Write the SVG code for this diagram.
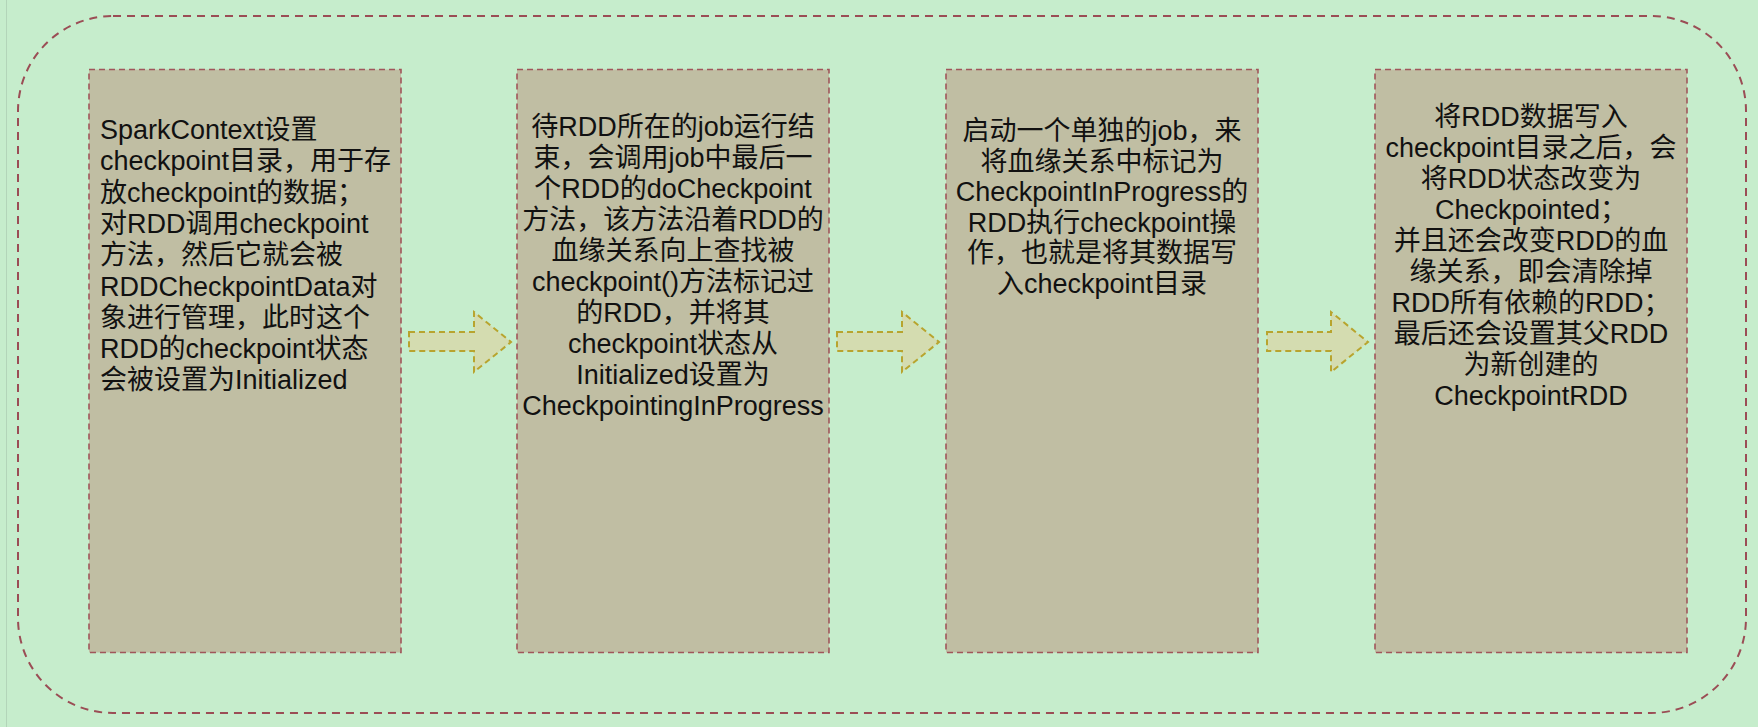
<svg xmlns="http://www.w3.org/2000/svg" width="1758" height="727" viewBox="0 0 1758 727">
<style>
.bg{fill:#C6EDCC}
.outer{fill:none;stroke:#9B4D55;stroke-width:2;stroke-dasharray:8 6}
.box{fill:#C0BEA3;stroke:#A0565A;stroke-width:1.6;stroke-dasharray:6 4}
.arrow{fill:#D4DCB0;stroke:#B8A42E;stroke-width:2;stroke-dasharray:6 4}
.t{font-family:"Liberation Sans","Noto Sans CJK SC",sans-serif;font-size:27px;fill:#111}
.c{text-anchor:middle}
</style>
<rect class="bg" x="0" y="0" width="1758" height="727"/>
<line x1="6.5" y1="0" x2="6.5" y2="727" stroke="#B3D5B9" stroke-width="1"/>
<rect class="outer" x="18" y="16" width="1728" height="697" rx="95" ry="95"/>
<g id="connectors">
<polygon class="arrow" points="409,332 474,332 474,312 511,342 474,372 474,351 409,351"/>
<polygon class="arrow" points="837,332 902,332 902,312 939,342 902,372 902,351 837,351"/>
<polygon class="arrow" points="1267,332 1331,332 1331,312 1368,342 1331,372 1331,351 1267,351"/>
</g>
<g id="node1">
<rect class="box" x="89" y="69.5" width="312" height="583"/>
<text class="t" x="100" y="139">SparkContext设置</text>
<text class="t" x="100" y="170.3">checkpoint目录，用于存</text>
<text class="t" x="100" y="201.6">放checkpoint的数据；</text>
<text class="t" x="100" y="232.9">对RDD调用checkpoint</text>
<text class="t" x="100" y="264.2">方法，然后它就会被</text>
<text class="t" x="100" y="295.5">RDDCheckpointData对</text>
<text class="t" x="100" y="326.8">象进行管理，此时这个</text>
<text class="t" x="100" y="358.1">RDD的checkpoint状态</text>
<text class="t" x="100" y="389.4">会被设置为Initialized</text>
</g>
<g id="node2">
<rect class="box" x="517" y="69.5" width="312" height="583"/>
<text class="t c" x="673" y="136">待RDD所在的job运行结</text>
<text class="t c" x="673" y="167">束，会调用job中最后一</text>
<text class="t c" x="673" y="198">个RDD的doCheckpoint</text>
<text class="t c" x="673" y="229">方法，该方法沿着RDD的</text>
<text class="t c" x="673" y="260">血缘关系向上查找被</text>
<text class="t c" x="673" y="291">checkpoint()方法标记过</text>
<text class="t c" x="673" y="322">的RDD，并将其</text>
<text class="t c" x="673" y="353">checkpoint状态从</text>
<text class="t c" x="673" y="384">Initialized设置为</text>
<text class="t c" x="673" y="415">CheckpointingInProgress</text>
</g>
<g id="node3">
<rect class="box" x="946" y="69.5" width="312" height="583"/>
<text class="t c" x="1102" y="140">启动一个单独的job，来</text>
<text class="t c" x="1102" y="170.6">将血缘关系中标记为</text>
<text class="t c" x="1102" y="201.2">CheckpointInProgress的</text>
<text class="t c" x="1102" y="231.8">RDD执行checkpoint操</text>
<text class="t c" x="1102" y="262.4">作，也就是将其数据写</text>
<text class="t c" x="1102" y="293">入checkpoint目录</text>
</g>
<g id="node4">
<rect class="box" x="1375" y="69.5" width="312" height="583"/>
<text class="t c" x="1531" y="126">将RDD数据写入</text>
<text class="t c" x="1531" y="157">checkpoint目录之后，会</text>
<text class="t c" x="1531" y="188">将RDD状态改变为</text>
<text class="t c" x="1531" y="219">Checkpointed；</text>
<text class="t c" x="1531" y="250">并且还会改变RDD的血</text>
<text class="t c" x="1531" y="281">缘关系，即会清除掉</text>
<text class="t c" x="1531" y="312">RDD所有依赖的RDD；</text>
<text class="t c" x="1531" y="343">最后还会设置其父RDD</text>
<text class="t c" x="1531" y="374">为新创建的</text>
<text class="t c" x="1531" y="405">CheckpointRDD</text>
</g>
</svg>
